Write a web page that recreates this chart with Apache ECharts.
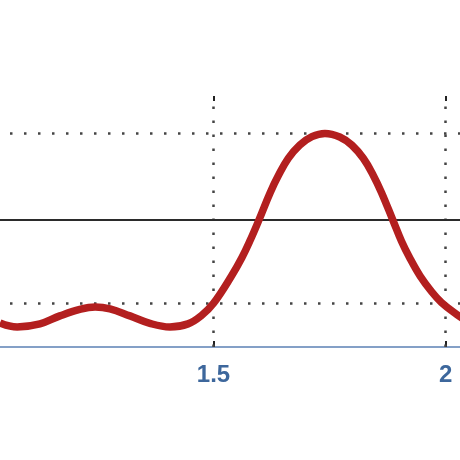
<!DOCTYPE html>
<html>
<head>
<meta charset="utf-8">
<script src="https://cdn.jsdelivr.net/npm/echarts@6/dist/echarts.min.js"></script>
<style>
  html, body { margin: 0; padding: 0; background: #fff; }
  #chart { width: 460px; height: 460px; }
</style>
</head>
<body>
<div id="chart"></div>
<script>
var xValues = [1.040, 1.077, 1.126, 1.169, 1.212, 1.245, 1.277, 1.320, 1.363, 1.406, 1.445, 1.475,
  1.500, 1.539, 1.561, 1.579, 1.597, 1.622, 1.640, 1.661, 1.686, 1.712, 1.740,
  1.772, 1.798, 1.823, 1.844, 1.862, 1.886, 1.905, 1.922, 1.945, 1.970, 1.991, 2.024, 2.040];
var yValues = [-0.115, -0.139, -0.121, -0.074, -0.036, -0.022, -0.033, -0.074, -0.118, -0.139, -0.121, -0.069,
  0.0, 0.162, 0.268, 0.371, 0.485, 0.651, 0.753, 0.853, 0.932, 0.981, 1.0,
  0.979, 0.931, 0.852, 0.754, 0.651, 0.492, 0.365, 0.271, 0.161, 0.068, 0.005, -0.066, -0.094];
var xTicks = [1.5, 2];
var gridLevels = [0, 1];   // dotted horizontal lines
var refLevel = 0.49;       // solid horizontal line
var xMin = 1.040, xMax = 2.031;
var yMin = -0.257, yMax = 1.22;

var chart = echarts.init(document.getElementById("chart"));

var curve = xValues.map(function (x, i) {
  return [x, yValues[i]];
});

var dotted = {
  color: "#444",
  width: 2.5,
  type: [2.5, 11.5],
  cap: "butt"
};

var option = {
  backgroundColor: "#fff",
  animation: false,
  grid: { left: 0, right: 0, top: 96, bottom: 113 },
  xAxis: [
    {
      type: "value",
      min: xMin,
      max: xMax,
      axisLine: { show: true, onZero: false, lineStyle: { color: "#5b80b4", width: 1.5 } },
      axisTick: {
        show: true,
        inside: true,
        length: 6,
        customValues: xTicks,
        lineStyle: { color: "#222", width: 2 }
      },
      axisLabel: {
        customValues: xTicks,
        margin: 16,
        color: "#3d679c",
        fontSize: 24,
        fontWeight: "bold",
        fontFamily: "Liberation Sans",
        formatter: function (v) { return String(v); }
      },
      splitLine: { show: false }
    },
    {
      type: "value",
      position: "top",
      min: xMin,
      max: xMax,
      axisLine: { show: false, onZero: false },
      axisTick: {
        show: true,
        inside: true,
        length: 5,
        customValues: xTicks,
        lineStyle: { color: "#222", width: 2 }
      },
      axisLabel: { show: false },
      splitLine: { show: false }
    }
  ],
  yAxis: {
    type: "value",
    min: yMin,
    max: yMax,
    show: false,
    splitLine: { show: false }
  },
  series: [
    {
      type: "line",
      data: [],
      silent: true,
      markLine: {
        silent: true,
        symbol: "none",
        label: { show: false },
        data: xTicks.map(function (v) {
          return { xAxis: v, lineStyle: dotted };
        }).concat(gridLevels.map(function (v) {
          return { yAxis: v, lineStyle: Object.assign({ dashOffset: 4 }, dotted) };
        })).concat([
          { yAxis: refLevel, lineStyle: { color: "#2b2b2b", width: 2.2, type: "solid" } }
        ])
      }
    },
    {
      type: "line",
      data: curve,
      smooth: 0.4,
      clip: true,
      showSymbol: false,
      lineStyle: { color: "#b31f1f", width: 7.5 },
      z: 5
    }
  ]
};

chart.setOption(option);
</script>
</body>
</html>
